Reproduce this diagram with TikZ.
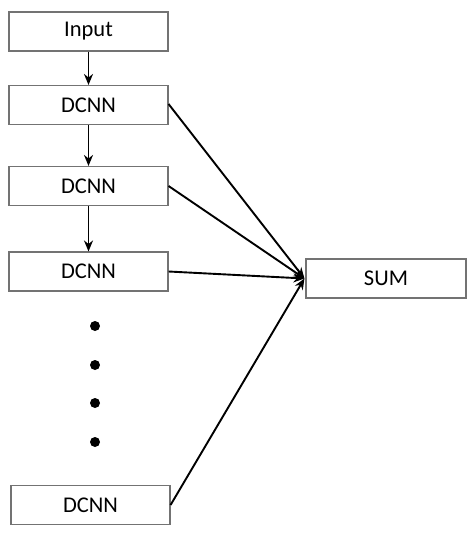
\documentclass[tikz,border=0pt]{standalone}
\usepackage{fontspec}
\setmainfont{Carlito}
\usetikzlibrary{arrows.meta}
\begin{document}
\begin{tikzpicture}[x=1pt,y=-1pt,
  blk/.style={draw=black!55,line width=1.1pt,fill=white,minimum width=159pt,minimum height=39pt,inner sep=0pt,font=\fontsize{22.5}{26}\selectfont},
  arr/.style={line width=1.9pt,-{Stealth[length=11pt,width=9pt]}},
  dotmark/.style={circle,fill=black,inner sep=0pt,minimum size=10pt}]
\useasboundingbox (0,0) rectangle (474,535);
\node[blk] (in) at (88.5,31.5) {Input};
\node[blk] (d1) at (88.5,105) {DCNN};
\node[blk] (d2) at (88.5,186) {DCNN};
\node[blk] (d3) at (88.5,271.5) {DCNN};
\node[blk] (dn) at (90.5,505) {DCNN};
\node[blk,minimum width=160pt] (sum) at (386,278.5) {SUM};
\node[dotmark] (p1) at (95,326) {};
\node[dotmark] (p2) at (95,365) {};
\node[dotmark] (p3) at (95,403) {};
\node[dotmark] (p4) at (95,442) {};
\coordinate (t) at ([xshift=-1pt]sum.west);
\draw[arr] (in) -- (d1);
\draw[arr] (d1) -- (d2);
\draw[arr] (d2) -- (d3);
\draw[arr] ([yshift=1pt]d1.east) -- (t);
\draw[arr] (d2.east) -- (t);
\draw[arr] (d3.east) -- (t);
\draw[arr] (dn.east) -- (t);
\end{tikzpicture}
\end{document}
